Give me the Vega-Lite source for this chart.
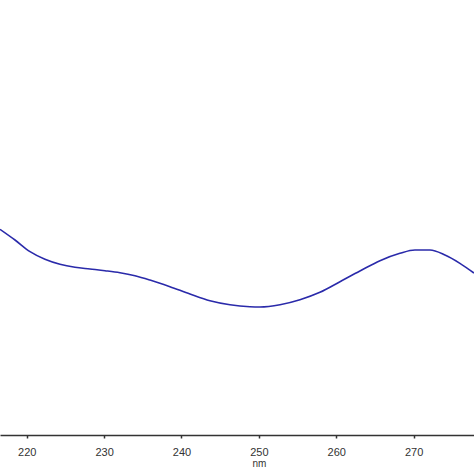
{
  "$schema": "https://vega.github.io/schema/vega-lite/v6.json",
  "width": 474,
  "height": 435,
  "padding": 0,
  "background": "white",
  "config": {"view": {"stroke": null}, "font": "Liberation Sans"},
  "data": {"values": [
    {"nm": 216.55, "abs": 0.4729},
    {"nm": 218.49, "abs": 0.4483},
    {"nm": 220.43, "abs": 0.4214},
    {"nm": 222.36, "abs": 0.4039},
    {"nm": 224.30, "abs": 0.3924},
    {"nm": 226.24, "abs": 0.3855},
    {"nm": 228.18, "abs": 0.3816},
    {"nm": 230.12, "abs": 0.3777},
    {"nm": 232.05, "abs": 0.3731},
    {"nm": 233.99, "abs": 0.3662},
    {"nm": 235.93, "abs": 0.3563},
    {"nm": 238.51, "abs": 0.3409},
    {"nm": 241.10, "abs": 0.3241},
    {"nm": 243.68, "abs": 0.3087},
    {"nm": 246.27, "abs": 0.2995},
    {"nm": 248.85, "abs": 0.2949},
    {"nm": 250.14, "abs": 0.2943},
    {"nm": 252.73, "abs": 0.2995},
    {"nm": 255.31, "abs": 0.3110},
    {"nm": 257.89, "abs": 0.3280},
    {"nm": 260.48, "abs": 0.3524},
    {"nm": 263.06, "abs": 0.3770},
    {"nm": 265.65, "abs": 0.4007},
    {"nm": 268.23, "abs": 0.4177},
    {"nm": 270.17, "abs": 0.4253},
    {"nm": 272.11, "abs": 0.4253},
    {"nm": 274.04, "abs": 0.4138},
    {"nm": 275.98, "abs": 0.3947},
    {"nm": 277.79, "abs": 0.3724}
  ]},
  "mark": {"type": "line", "color": "#2a2aaa", "strokeWidth": 1.6, "interpolate": "monotone", "clip": true},
  "encoding": {
    "x": {
      "field": "nm", "type": "quantitative",
      "scale": {"domain": [216.55, 277.8], "nice": false, "zero": false},
      "axis": {
        "title": "nm", "titleFontSize": 10, "titleFontWeight": "normal", "titleColor": "#333",
        "titlePadding": 1, "titleX": 259,
        "values": [220, 230, 240, 250, 260, 270],
        "grid": false, "domainColor": "#333", "domainWidth": 1.5, "tickColor": "#333", "tickSize": 3, "tickWidth": 1.5,
        "labelFontSize": 11, "labelColor": "#333", "labelPadding": 8
      }
    },
    "y": {
      "field": "abs", "type": "quantitative",
      "scale": {"domain": [0, 1], "nice": false},
      "axis": null
    }
  }
}
